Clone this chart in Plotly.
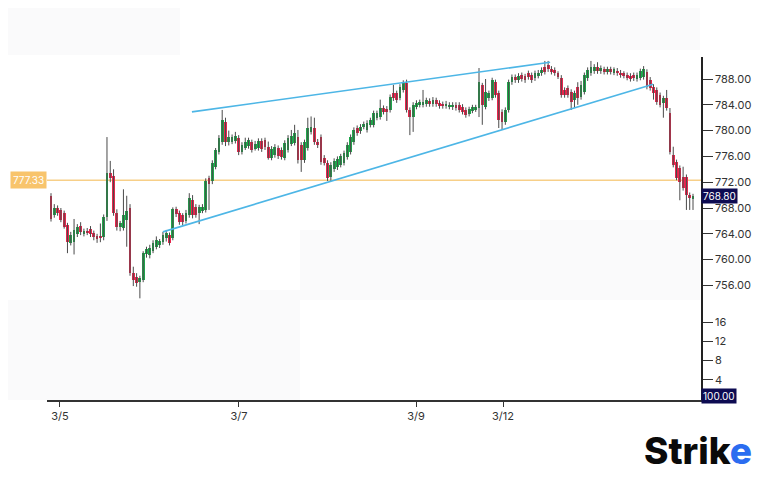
import plotly.graph_objects as go

# ---------------- data ----------------
opens = [
769.9,766.9,768.0,767.7,767.2,765.4,762.6,762.8,764.0,765.2,
764.0,764.5,764.8,764.1,763.6,763.6,763.5,766.6,773.4,772.9,
767.3,765.0,764.9,766.2,768.0,757.9,757.3,756.5,756.9,760.8,
760.7,761.4,762.0,762.2,762.8,763.3,763.8,763.4,767.8,767.3,
766.9,766.0,766.9,769.3,768.2,767.3,767.6,767.7,772.6,772.2,
774.4,776.7,778.2,781.3,778.2,778.3,778.4,778.9,776.7,777.3,
777.6,778.2,777.2,777.3,778.4,778.5,777.5,775.8,776.2,777.3,
777.0,775.8,777.0,778.0,778.1,779.0,777.8,775.4,777.3,779.8,
780.4,778.3,779.0,775.8,775.0,772.8,774.0,774.3,774.7,775.0,
775.9,776.7,778.2,780.4,779.9,780.6,
780.1,780.9,780.9,782.0,782.1,783.5,783.4,783.2,785.8,785.8,
785.1,786.3,787.4,783.2,782.1,783.7,784.0,784.0,784.1,784.6,
784.1,784.7,784.3,784.1,783.8,783.7,783.6,784.0,784.0,783.7,
783.2,782.6,783.1,783.3,783.5,787.0,783.7,785.0,785.1,787.5,
785.8,782.9,781.3,783.2,787.5,788.3,787.8,788.6,788.4,
788.9,788.6,788.1,788.5,788.9,789.9,790.1,789.6,
789.4,788.9,788.2,786.3,786.6,786.0,784.7,786.8,785.2,786.0,
788.1,788.9,789.2,789.9,789.2,789.5,789.1,789.5,789.0,
789.3,789.0,788.8,788.6,788.5,788.6,788.0,788.2,788.3,789.1,
787.9,786.8,786.3,785.5,784.3,785.1,782.7,776.2,775.1,774.2,
772.8,772.8,770.0,769.4,
]
highs = [
770.3,768.6,768.4,768.0,767.6,765.7,764.3,766.3,765.5,765.8,
764.8,764.9,765.2,764.5,764.0,765.6,767.0,779.0,775.3,774.0,
767.8,766.0,770.9,769.9,768.6,758.9,757.9,757.5,761.3,762.0,
762.3,763.0,763.6,763.2,764.3,764.6,764.2,768.1,768.2,767.6,
767.2,767.7,770.3,770.0,768.6,768.5,768.6,772.6,773.0,775.4,
777.3,779.3,783.2,782.0,780.0,779.4,779.8,779.3,778.2,778.9,
778.9,778.6,778.4,778.8,778.8,778.9,778.3,777.6,777.9,777.7,
777.4,778.5,779.3,780.1,780.9,780.1,778.2,778.6,782.0,782.2,
782.0,778.7,779.4,776.2,775.4,775.1,775.7,776.0,776.4,776.9,
778.2,779.4,780.5,780.8,781.0,781.4,
781.6,782.0,783.1,783.1,784.8,783.9,783.8,785.6,787.1,786.2,
787.2,787.8,787.9,783.6,784.4,784.7,784.8,786.3,785.1,785.0,
785.2,785.1,784.7,784.5,784.6,784.4,784.4,784.4,784.4,784.1,
783.6,783.7,784.0,784.0,789.7,787.4,788.0,786.2,788.2,787.9,
786.2,783.3,783.6,787.9,788.7,788.7,788.9,789.0,788.8,
789.3,789.0,789.3,789.4,789.8,790.8,790.8,790.0,
789.8,789.2,788.6,786.7,787.0,786.4,786.2,787.5,787.7,789.0,
789.8,790.8,790.3,790.6,790.1,789.9,789.9,789.9,789.8,
789.7,789.4,789.2,789.0,788.9,789.0,789.0,789.6,790.0,789.5,
788.3,787.2,786.7,785.9,785.4,786.3,783.5,777.5,775.5,774.6,
774.4,773.2,770.4,770.2,
]
lows = [
765.9,766.5,766.8,765.8,764.8,761.0,762.2,760.8,763.5,763.8,
763.6,763.8,763.5,763.0,762.6,762.7,763.0,766.0,772.0,766.8,
764.5,764.4,764.5,762.0,757.5,755.9,755.8,754.0,756.5,760.3,
760.2,761.0,761.6,761.8,762.3,762.8,762.2,763.0,766.6,765.4,
765.3,765.6,766.5,766.4,766.5,765.5,767.2,767.3,767.7,771.7,
774.0,776.3,777.8,777.6,777.7,777.9,778.0,776.2,776.3,777.0,
777.2,776.6,776.9,776.9,776.7,777.0,775.5,775.4,775.8,775.6,
775.5,775.4,776.6,777.6,777.7,774.9,773.6,775.0,776.9,779.4,
777.8,777.3,774.7,774.6,772.2,772.2,773.6,773.9,774.3,774.6,
775.5,776.3,777.8,779.2,779.5,780.2,
779.7,780.5,780.5,781.6,781.7,782.5,781.5,782.8,784.6,784.3,
784.7,785.9,782.8,779.3,779.8,783.3,783.6,783.6,783.7,783.7,
783.7,783.7,783.4,783.4,783.4,783.3,783.2,783.1,782.8,782.5,
782.0,782.2,782.7,782.9,782.1,780.9,783.3,784.6,784.7,785.1,
780.4,780.1,780.9,782.8,787.1,787.4,787.4,787.6,787.4,
787.9,787.4,787.7,788.1,788.5,788.7,789.1,788.7,
788.5,788.0,785.1,785.1,785.1,783.2,783.5,784.0,784.8,785.6,
787.7,788.5,788.8,788.8,788.8,788.7,788.7,788.7,788.6,
788.5,788.2,788.1,787.8,787.6,787.7,787.6,787.8,787.9,786.4,
786.2,784.8,784.0,783.6,782.0,783.1,776.3,774.3,772.3,769.2,
770.7,767.7,767.7,767.7,
]
closes = [
766.3,768.0,767.2,766.1,765.1,762.7,763.8,764.6,765.0,764.3,
764.5,764.1,764.0,763.5,763.2,763.3,766.6,773.4,772.6,767.2,
765.0,765.6,766.9,767.5,757.9,756.8,756.4,757.2,761.0,761.6,
761.8,762.6,763.1,762.9,763.8,764.1,762.6,767.8,767.0,765.8,
765.8,767.3,769.6,766.9,766.9,768.1,768.2,772.2,771.8,775.0,
777.0,778.9,781.6,778.2,779.0,779.0,779.1,776.7,777.8,778.2,
778.5,777.0,778.0,778.4,777.1,777.4,775.8,777.2,777.5,776.0,
775.9,778.1,778.9,779.2,779.6,775.4,775.4,778.2,780.4,780.6,
778.2,777.7,775.1,775.0,772.7,774.7,775.3,775.6,776.0,776.5,
777.8,779.0,780.1,779.6,780.6,781.0,
781.2,781.6,782.7,782.7,783.5,782.9,782.9,785.2,785.0,784.7,
786.8,787.4,783.2,782.1,784.0,784.3,784.4,784.5,784.7,784.1,
784.8,784.1,783.8,783.8,784.2,784.0,784.0,783.5,783.2,782.9,
782.4,783.3,783.6,783.6,787.5,784.0,786.0,785.8,787.8,785.5,
781.6,781.3,783.2,787.5,788.3,787.8,788.5,788.0,787.8,
788.3,787.8,788.9,789.0,789.4,789.1,789.5,789.1,
788.9,788.3,785.5,785.5,785.5,784.4,785.8,785.1,787.1,788.6,
789.4,789.9,789.9,789.2,789.7,789.1,789.5,789.1,789.5,
788.9,788.6,788.5,788.2,788.0,788.1,788.6,789.2,789.6,786.8,
786.6,785.9,784.4,784.0,785.0,783.5,776.7,774.7,772.7,772.0,
771.1,770.0,769.6,769.8,
]

date_tick_pos = [2.7, 57.1, 110.9, 137.3]
date_tick_labels = ["3/5", "3/7", "3/9", "3/12"]
price_ticks = [756, 760, 764, 768, 772, 776, 780, 784, 788]
volume_ticks = [4, 8, 12, 16]

# trend lines (bar index, price)
upper_trend_x = [42.8, 151.6]
upper_trend_y = [782.9, 790.6]
lower_trend_x = [34.0, 182.9]
lower_trend_y = [764.3, 787.2]

level_price = 772.3
level_label = "777.33"
last_price_label = "768.80"
volume_label = "100.00"

# ---------------- figure ----------------
n = len(opens)
idx = list(range(n))

GREEN = "#1fa64b"
RED = "#e8264d"

wick_x, wick_y = [], []
for i in idx:
    wick_x += [i, i, None]
    wick_y += [lows[i], highs[i], None]

body_h = [c - o for o, c in zip(opens, closes)]
body_col = [GREEN if c >= o else RED for o, c in zip(opens, closes)]

fig = go.Figure()

fig.add_trace(go.Scatter(x=wick_x, y=wick_y, mode="lines",
                         line=dict(color="#4a4a4a", width=1),
                         hoverinfo="skip", showlegend=False))
fig.add_trace(go.Bar(x=idx, y=body_h, base=opens, width=0.85,
                     marker=dict(color=body_col, line=dict(width=0)),
                     showlegend=False))

fig.add_trace(go.Scatter(x=upper_trend_x, y=upper_trend_y, mode="lines",
                         line=dict(color="#4db6e6", width=1.6), showlegend=False))
fig.add_trace(go.Scatter(x=lower_trend_x, y=lower_trend_y, mode="lines",
                         line=dict(color="#4db6e6", width=1.6), showlegend=False))

# empty volume pane
fig.add_trace(go.Scatter(x=[0], y=[0], yaxis="y2", mode="markers",
                         marker=dict(opacity=0), hoverinfo="skip", showlegend=False))

# page pixel layout (the page body adds an 8px offset)
OFF = 8
PL, PR, PT, PB = 47, 701, 57, 400          # plot area in page pixels
W, H = 768, 480
ML, MT = PL - OFF, PT - OFF
MR, MB = W - (PR - OFF), H - (PB - OFF)
PW, PH = PR - PL, PB - PT


def px(x):
    return (x - PL) / PW


def py(y):
    return (PB - y) / PH


shapes = []
# faint background blocks
for (x0, y0, x1, y1) in [(0, 0, 180, 55), (460, 0, 700, 50), (150, 290, 300, 400),
                         (540, 220, 700, 300), (300, 230, 540, 300), (0, 300, 150, 400)]:
    shapes.append(dict(type="rect", xref="paper", yref="paper",
                       x0=px(x0), x1=px(x1), y0=py(y1), y1=py(y0),
                       fillcolor="#fafafb", line=dict(width=0), layer="below"))
# level line
shapes.append(dict(type="line", xref="paper", yref="y", x0=0, x1=1,
                   y0=level_price, y1=level_price,
                   line=dict(color="#f7cf88", width=1.5), layer="below"))

annotations = [
    dict(xref="paper", yref="y", x=0, y=level_price, xanchor="right", yanchor="middle",
         text=level_label, showarrow=False, bgcolor="#f8c46c",
         font=dict(family="Inter", size=10, color="#ffffff"), borderpad=2),
    dict(xref="paper", yref="y", x=1, y=closes[-1], xanchor="left", yanchor="middle",
         text=last_price_label, showarrow=False, bgcolor="#0d0b52",
         font=dict(family="Inter", size=10, color="#ffffff"), borderpad=1),
    dict(xref="paper", yref="paper", x=1, y=py(396), xanchor="left", yanchor="middle",
         text=volume_label, showarrow=False, bgcolor="#0d0b52",
         font=dict(family="Inter", size=10, color="#ffffff"), borderpad=1),
    dict(xref="paper", yref="paper", x=px(698), y=py(451), xanchor="center", yanchor="middle",
         text="Strik<span style='color:#2b6cf0'>e</span>", showarrow=False,
         font=dict(family="Inter", size=37, color="#0a0a0a", weight=800)),
]

fig.update_layout(
    width=W, height=H,
    margin=dict(l=ML, r=MR, t=MT, b=MB, autoexpand=False),
    paper_bgcolor="#ffffff", plot_bgcolor="rgba(0,0,0,0)",
    barmode="overlay", bargap=0,
    showlegend=False,
    shapes=shapes, annotations=annotations,
    xaxis=dict(range=[-1.215, 197.43], showgrid=False, zeroline=False,
               showline=True, linecolor="#333333", linewidth=1.5,
               ticks="outside", ticklen=5, tickcolor="#333333", tickwidth=1.2,
               tickvals=date_tick_pos, ticktext=date_tick_labels,
               tickfont=dict(family="Inter", size=11, color="#333333"),
               anchor="y2", fixedrange=True),
    yaxis=dict(domain=[100 / PH, 1], range=[753.74, 791.41], side="right",
               anchor="x", showgrid=False, zeroline=False,
               showline=True, linecolor="#222222", linewidth=1.5,
               ticks="outside", ticklen=10, tickcolor="#333333", tickwidth=1.2,
               tickvals=price_ticks, tickformat=".2f",
               tickfont=dict(family="Inter", size=11, color="#333333")),
    yaxis2=dict(domain=[0, 100 / PH], range=[-0.2, 20.6], side="right",
                anchor="x", showgrid=False, zeroline=False,
                showline=True, linecolor="#222222", linewidth=1.5,
                ticks="outside", ticklen=10, tickcolor="#333333", tickwidth=1.2,
                tickvals=volume_ticks,
                tickfont=dict(family="Inter", size=11, color="#333333")),
)

fig.write_html("out.html")
